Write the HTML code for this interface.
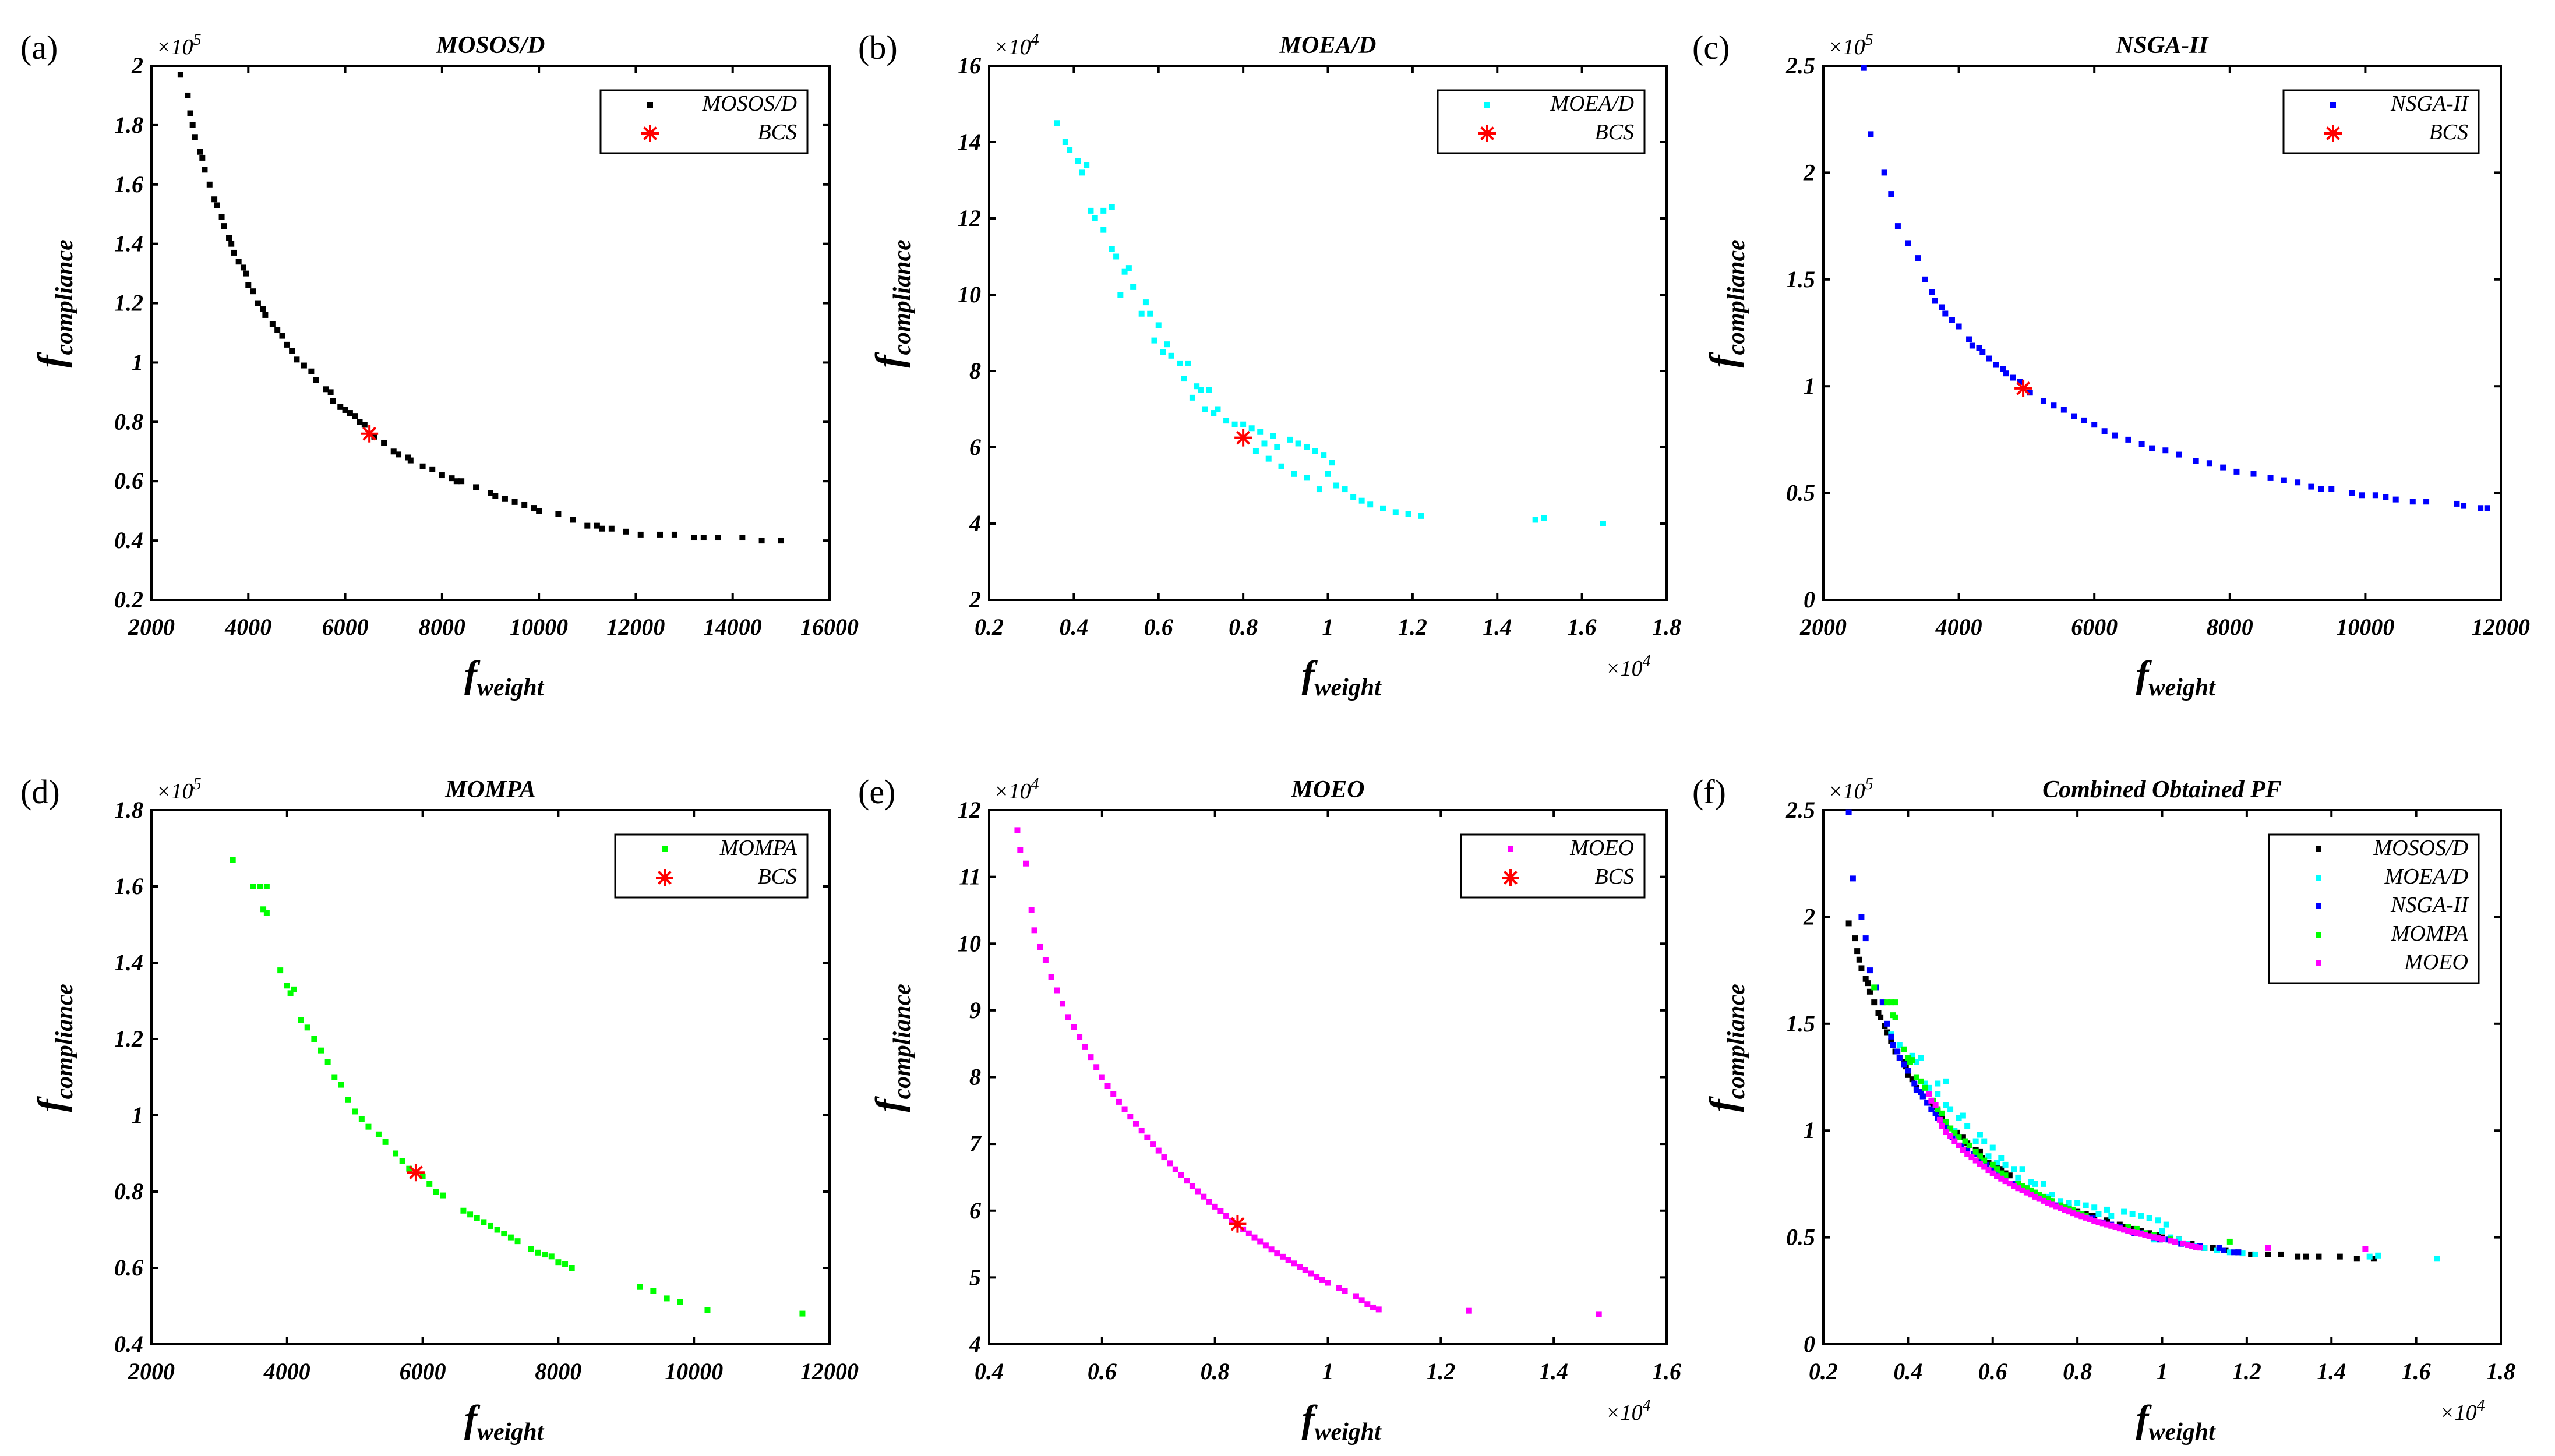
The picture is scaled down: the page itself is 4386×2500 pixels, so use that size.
<!DOCTYPE html>
<html><head><meta charset="utf-8"><style>
html,body{margin:0;padding:0;background:#fff;}
svg{display:block;}
text{font-family:"Liberation Serif",serif;}
</style></head><body>
<svg id="fig" width="4386" height="2500" viewBox="0 0 4386 2500" xmlns="http://www.w3.org/2000/svg"></svg>
<script>
// ---------- data ----------
const mososX=[2600,2750,2800,2850,2900,3000,3050,3100,3200,3300,3350,3450,3500,3600,3650,3700,3800,3900,3950,4000,4100,4200,4300,4350,4500,4600,4700,4800,4900,5000,5150,5300,5400,5600,5700,5750,5900,6000,6100,6200,6300,6400,6600,6800,7000,7100,7300,7350,7600,7800,8000,8200,8300,8400,8700,9000,9100,9300,9500,9700,9900,10000,10400,10700,11000,11200,11300,11500,11800,12100,12500,12800,13200,13400,13700,14200,14600,15000];
const mososY=[1.97,1.90,1.84,1.80,1.76,1.71,1.69,1.65,1.60,1.55,1.53,1.49,1.46,1.42,1.40,1.37,1.34,1.32,1.30,1.26,1.24,1.20,1.18,1.16,1.13,1.11,1.09,1.06,1.04,1.01,0.99,0.97,0.94,0.91,0.90,0.87,0.85,0.84,0.83,0.82,0.80,0.79,0.75,0.73,0.70,0.69,0.68,0.67,0.65,0.64,0.62,0.61,0.60,0.60,0.58,0.56,0.55,0.54,0.53,0.52,0.51,0.50,0.49,0.47,0.45,0.45,0.44,0.44,0.43,0.42,0.42,0.42,0.41,0.41,0.41,0.41,0.40,0.40];
const mososBCS=[6500,0.76];

const moeadX=[0.36,0.38,0.39,0.41,0.42,0.43,0.44,0.45,0.47,0.49,0.47,0.49,0.5,0.52,0.53,0.51,0.54,0.56,0.58,0.57,0.6,0.59,0.62,0.63,0.61,0.65,0.67,0.66,0.69,0.7,0.72,0.68,0.71,0.74,0.73,0.76,0.78,0.8,0.82,0.84,0.87,0.85,0.88,0.91,0.93,0.95,0.97,0.99,1.01,1.0,0.95,0.92,0.89,0.86,0.83,1.02,0.98,1.04,1.06,1.08,1.1,1.13,1.16,1.19,1.22,1.49,1.51,1.65];
const moeadY=[14.5,14.0,13.8,13.5,13.2,13.4,12.2,12.0,12.2,12.3,11.7,11.2,11.0,10.6,10.7,10.0,10.2,9.5,9.5,9.8,9.2,8.8,8.7,8.4,8.5,8.2,8.2,7.8,7.6,7.5,7.5,7.3,7.0,7.0,6.9,6.7,6.6,6.6,6.5,6.4,6.3,6.1,6.0,6.2,6.1,6.0,5.9,5.8,5.6,5.3,5.2,5.3,5.5,5.7,5.9,5.0,4.9,4.9,4.7,4.6,4.5,4.4,4.3,4.25,4.2,4.1,4.15,4.0];
const moeadBCS=[0.8,6.25];

const nsgaX=[2600,2700,2900,3000,3100,3250,3400,3500,3600,3650,3750,3800,3900,4000,4150,4200,4300,4350,4450,4550,4650,4700,4800,4900,5050,5250,5400,5550,5700,5850,6000,6150,6300,6500,6700,6850,7050,7250,7500,7700,7900,8100,8350,8600,8800,9000,9200,9350,9500,9800,9950,10150,10300,10450,10700,10900,11350,11450,11700,11800];
const nsgaY=[2.49,2.18,2.00,1.90,1.75,1.67,1.60,1.50,1.44,1.40,1.37,1.34,1.31,1.28,1.22,1.19,1.18,1.16,1.13,1.10,1.08,1.06,1.04,1.02,0.97,0.93,0.91,0.89,0.86,0.84,0.82,0.79,0.77,0.75,0.73,0.71,0.70,0.68,0.65,0.64,0.62,0.60,0.59,0.57,0.56,0.55,0.53,0.52,0.52,0.50,0.49,0.49,0.48,0.47,0.46,0.46,0.45,0.44,0.43,0.43];
const nsgaBCS=[4950,0.99];

const mompaX=[3200,3500,3600,3700,3650,3700,3900,4000,4100,4050,4200,4300,4400,4500,4600,4700,4800,4900,5000,5100,5200,5350,5450,5600,5700,5800,6000,6100,6200,6300,6600,6700,6800,6900,7000,7100,7200,7300,7400,7600,7700,7800,7900,8000,8100,8200,9200,9400,9600,9800,10200,11600];
const mompaY=[1.67,1.60,1.60,1.60,1.54,1.53,1.38,1.34,1.33,1.32,1.25,1.23,1.20,1.17,1.14,1.10,1.08,1.04,1.01,0.99,0.97,0.95,0.93,0.90,0.88,0.86,0.84,0.82,0.80,0.79,0.75,0.74,0.73,0.72,0.71,0.70,0.69,0.68,0.67,0.65,0.64,0.635,0.63,0.615,0.61,0.60,0.55,0.54,0.52,0.51,0.49,0.48];
const mompaBCS=[5900,0.85];

const moeoX=[0.45,0.455,0.465,0.475,0.48,0.49,0.50,0.51,0.52,0.53,0.54,0.55,0.56,0.57,0.58,0.59,0.60,0.61,0.62,0.63,0.64,0.65,0.66,0.67,0.68,0.69,0.70,0.71,0.72,0.73,0.74,0.75,0.76,0.77,0.78,0.79,0.80,0.81,0.82,0.83,0.84,0.85,0.86,0.87,0.88,0.89,0.90,0.91,0.92,0.93,0.94,0.95,0.96,0.97,0.98,0.99,1.00,1.02,1.03,1.05,1.06,1.07,1.08,1.09,1.25,1.48];
const moeoY=[11.7,11.4,11.2,10.5,10.2,9.95,9.75,9.5,9.3,9.1,8.9,8.75,8.6,8.45,8.3,8.15,8.0,7.87,7.75,7.63,7.52,7.41,7.3,7.2,7.1,7.0,6.9,6.8,6.71,6.62,6.53,6.45,6.37,6.29,6.21,6.13,6.06,5.99,5.92,5.85,5.78,5.72,5.66,5.6,5.54,5.48,5.42,5.36,5.31,5.26,5.21,5.16,5.11,5.06,5.01,4.96,4.92,4.84,4.8,4.72,4.66,4.6,4.55,4.52,4.5,4.45];
const moeoBCS=[0.84,5.8];

// tick labels
const ticksA_x=[2000,4000,6000,8000,10000,12000,14000,16000];
const ticksA_y=[0.2,0.4,0.6,0.8,1,1.2,1.4,1.6,1.8,2];
const ticksB_x=[0.2,0.4,0.6,0.8,1,1.2,1.4,1.6,1.8];
const ticksB_y=[2,4,6,8,10,12,14,16];
const ticksC_x=[2000,4000,6000,8000,10000,12000];
const ticksC_y=[0,0.5,1,1.5,2,2.5];
const ticksD_x=[2000,4000,6000,8000,10000,12000];
const ticksD_y=[0.4,0.6,0.8,1,1.2,1.4,1.6,1.8];
const ticksE_x=[0.4,0.6,0.8,1,1.2,1.4,1.6];
const ticksE_y=[4,5,6,7,8,9,10,11,12];
const ticksF_x=[0.2,0.4,0.6,0.8,1,1.2,1.4,1.6,1.8];
const ticksF_y=[0,0.5,1,1.5,2,2.5];

// ---------- drawing ----------
const NS='http://www.w3.org/2000/svg';
const svg=document.getElementById('fig');
function mk(tag,attrs,parent){const e=document.createElementNS(NS,tag);for(const k in attrs)e.setAttribute(k,attrs[k]);(parent||svg).appendChild(e);return e;}

function panel(p){
  const g=mk('g',{});
  
  
  const L=p.L,R=p.R,T=p.T,B=p.B;
  const sx=v=>L+(v-p.xlim[0])/(p.xlim[1]-p.xlim[0])*(R-L);
  const sy=v=>B-(v-p.ylim[0])/(p.ylim[1]-p.ylim[0])*(B-T);
  const box=mk('rect',{x:L,y:T,width:R-L,height:B-T,fill:'#fff',stroke:'#000','stroke-width':4},g);
  
  
  p.xt.forEach(v=>{const x=sx(v);
    mk('line',{x1:x,y1:B,x2:x,y2:B-12,stroke:'#000','stroke-width':4},g);
    mk('line',{x1:x,y1:T,x2:x,y2:T+12,stroke:'#000','stroke-width':4},g);
    const t=mk('text',{x:x,y:B+60,'text-anchor':'middle','font-size':40,'font-weight':'bold','font-style':'italic'},g);
    t.textContent=String(v);
    
    
  });
  p.yt.forEach(v=>{const y=sy(v);
    mk('line',{x1:L,y1:y,x2:L+12,y2:y,stroke:'#000','stroke-width':4},g);
    mk('line',{x1:R,y1:y,x2:R-12,y2:y,stroke:'#000','stroke-width':4},g);
    const t=mk('text',{x:L-14,y:y+13,'text-anchor':'end','font-size':40,'font-weight':'bold','font-style':'italic'},g);
    t.textContent=String(v);
    
    
  });
  p.series.forEach(s=>{
    for(let i=0;i<s.x.length;i++){
      const c=mk('rect',{x:sx(s.x[i]*s.kx)-5,y:sy(s.y[i]*s.ky)-5,width:10,height:10,fill:s.color},g);
      
      
    }
  });
  if(p.bcs){star(g,sx(p.bcs[0]),sy(p.bcs[1]),'bcs-marker');}
  const ti=mk('text',{x:(L+R)/2,y:T-22,'text-anchor':'middle','font-size':42,'font-weight':'bold','font-style':'italic'},g);
  ti.textContent=p.title;
  
  
  const pl=mk('text',{x:L-225,y:T-12,'font-size':58},g);
  pl.textContent=p.label;
  
  
  const ey=mk('text',{x:L+8,y:T-20,'font-size':38,'font-style':'italic'},g);
  ey.innerHTML='×10<tspan dy="-16" font-size="28">'+p.yexp+'</tspan>';
  
  
  if(p.xexp){
    const ex=mk('text',{x:R-105,y:B+130,'font-size':38,'font-style':'italic'},g);
    ex.innerHTML='×10<tspan dy="-16" font-size="28">'+p.xexp+'</tspan>';
    
    
  }
  const xl=mk('text',{x:(L+R)/2-45,y:B+150,'font-size':66,'font-weight':'bold','font-style':'italic'},g);
  xl.innerHTML='f<tspan dy="14" font-size="42">weight</tspan>';
  
  
  const cy=(T+B)/2+60;
  const yl=mk('text',{x:0,y:0,'font-size':66,'font-weight':'bold','font-style':'italic',transform:'translate('+(L-150)+','+cy+') rotate(-90)'},g);
  yl.innerHTML='f<tspan dy="14" font-size="42">compliance</tspan>';
  
  
  const lg=mk('g',{},g);
  
  
  const lw=p.legW, lh=p.legend.length*49+10, lx=R-lw-38, ly=T+42;
  mk('rect',{x:lx,y:ly,width:lw,height:lh,fill:'#fff',stroke:'#000','stroke-width':3},lg);
  p.legend.forEach((e,i)=>{
    const yy=ly+35+i*49;
    if(e.color==='bcs'){star(lg,lx+85,yy-10,'legend-bcs-marker');}
    else{const m=mk('rect',{x:lx+80,y:yy-15,width:10,height:10,fill:e.color},lg);
      
      }
    const t=mk('text',{x:lx+lw-18,y:yy,'text-anchor':'end','font-size':38,'font-style':'italic'},lg);
    t.textContent=e.text;
    
    
  });
}
function star(g,x,y,name){
  const s=mk('g',{stroke:'#f00','stroke-width':4},g);
  
  
  const r=15;
  mk('line',{x1:x-r,y1:y,x2:x+r,y2:y},s);
  mk('line',{x1:x,y1:y-r,x2:x,y2:y+r},s);
  mk('line',{x1:x-r*0.7,y1:y-r*0.7,x2:x+r*0.7,y2:y+r*0.7},s);
  mk('line',{x1:x-r*0.7,y1:y+r*0.7,x2:x+r*0.7,y2:y-r*0.7},s);
}
const T1=113,B1=1030,T2=1391,B2=2308;
const C1=[260,1424],C2=[1698,2861],C3=[3130,4293];
panel({id:'mososd',L:C1[0],R:C1[1],T:T1,B:B1,xlim:[2000,16000],ylim:[0.2,2],xt:ticksA_x,yt:ticksA_y,title:'MOSOS/D',label:'(a)',yexp:5,
  series:[{name:'mososd',x:mososX,y:mososY,kx:1,ky:1,color:'#000'}],bcs:mososBCS,legW:355,
  legend:[{color:'#000',text:'MOSOS/D'},{color:'bcs',text:'BCS'}]});
panel({id:'moead',L:C2[0],R:C2[1],T:T1,B:B1,xlim:[0.2,1.8],ylim:[2,16],xt:ticksB_x,yt:ticksB_y,title:'MOEA/D',label:'(b)',yexp:4,xexp:4,
  series:[{name:'moead',x:moeadX,y:moeadY,kx:1,ky:1,color:'#0ff'}],bcs:moeadBCS,legW:355,
  legend:[{color:'#0ff',text:'MOEA/D'},{color:'bcs',text:'BCS'}]});
panel({id:'nsga2',L:C3[0],R:C3[1],T:T1,B:B1,xlim:[2000,12000],ylim:[0,2.5],xt:ticksC_x,yt:ticksC_y,title:'NSGA-II',label:'(c)',yexp:5,
  series:[{name:'nsga2',x:nsgaX,y:nsgaY,kx:1,ky:1,color:'#00f'}],bcs:nsgaBCS,legW:335,
  legend:[{color:'#00f',text:'NSGA-II'},{color:'bcs',text:'BCS'}]});
panel({id:'mompa',L:C1[0],R:C1[1],T:T2,B:B2,xlim:[2000,12000],ylim:[0.4,1.8],xt:ticksD_x,yt:ticksD_y,title:'MOMPA',label:'(d)',yexp:5,
  series:[{name:'mompa',x:mompaX,y:mompaY,kx:1,ky:1,color:'#0f0'}],bcs:mompaBCS,legW:330,
  legend:[{color:'#0f0',text:'MOMPA'},{color:'bcs',text:'BCS'}]});
panel({id:'moeo',L:C2[0],R:C2[1],T:T2,B:B2,xlim:[0.4,1.6],ylim:[4,12],xt:ticksE_x,yt:ticksE_y,title:'MOEO',label:'(e)',yexp:4,xexp:4,
  series:[{name:'moeo',x:moeoX,y:moeoY,kx:1,ky:1,color:'#f0f'}],bcs:moeoBCS,legW:315,
  legend:[{color:'#f0f',text:'MOEO'},{color:'bcs',text:'BCS'}]});
panel({id:'combined',L:C3[0],R:C3[1],T:T2,B:B2,xlim:[0.2,1.8],ylim:[0,2.5],xt:ticksF_x,yt:ticksF_y,title:'Combined Obtained PF',label:'(f)',yexp:5,xexp:4,
  series:[
    {name:'mososd',x:mososX,y:mososY,kx:1e-4,ky:1,color:'#000'},
    {name:'moead',x:moeadX,y:moeadY,kx:1,ky:0.1,color:'#0ff'},
    {name:'nsga2',x:nsgaX,y:nsgaY,kx:1e-4,ky:1,color:'#00f'},
    {name:'mompa',x:mompaX,y:mompaY,kx:1e-4,ky:1,color:'#0f0'},
    {name:'moeo',x:moeoX,y:moeoY,kx:1,ky:0.1,color:'#f0f'}],legW:360,
  legend:[{color:'#000',text:'MOSOS/D'},{color:'#0ff',text:'MOEA/D'},{color:'#00f',text:'NSGA-II'},{color:'#0f0',text:'MOMPA'},{color:'#f0f',text:'MOEO'}]});
</script>
</body></html>
